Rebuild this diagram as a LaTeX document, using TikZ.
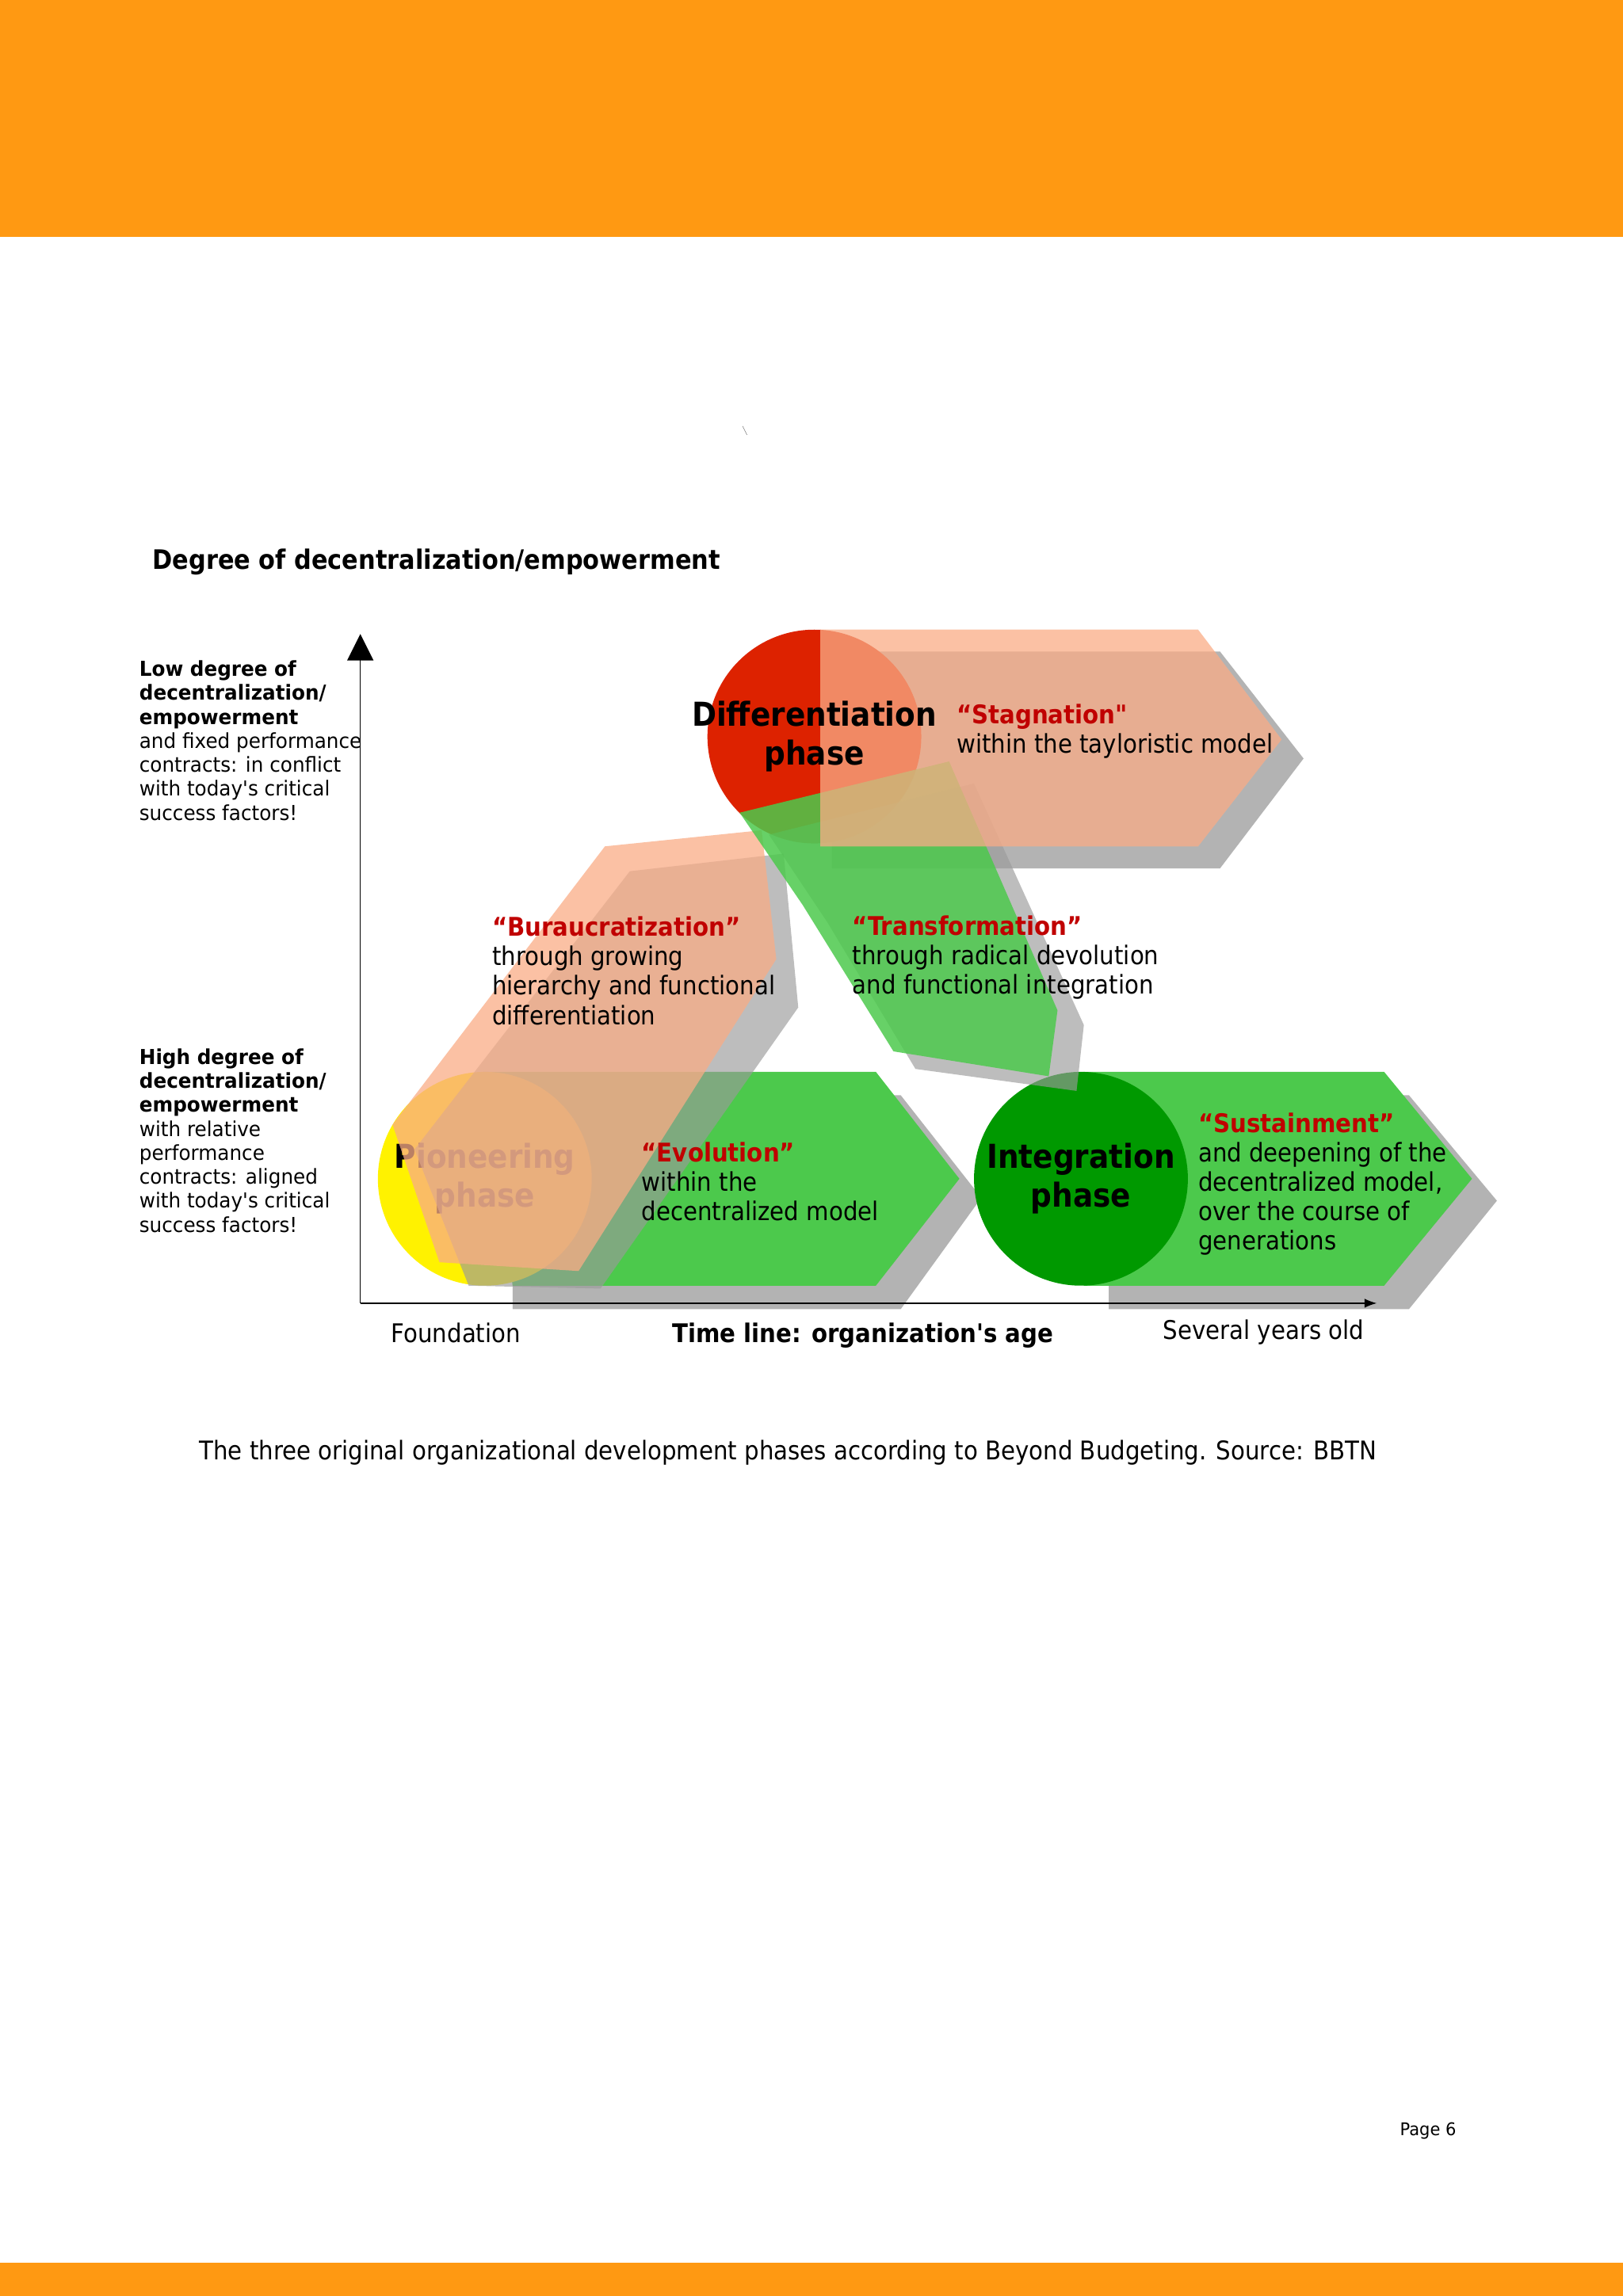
\documentclass[tikz,border=0pt]{standalone}
\usepackage{fontspec}
\usetikzlibrary{arrows.meta}
\setmainfont{DejaVu Sans}
\newfontfamily\cond{DejaVu Sans}[FakeStretch=0.9]
\newfontfamily\side{DejaVu Sans}[FakeStretch=0.95]
\definecolor{orng}{HTML}{FF9912}
\definecolor{grn}{HTML}{4CC94C}
\definecolor{salm}{HTML}{F9AC86}
\definecolor{shd}{HTML}{9A9A9A}
\definecolor{lbl}{HTML}{C00000}
\tikzset{
  main/.style={font=\cond\fontsize{25}{28.5}\selectfont, align=left, inner sep=0pt},
  sidet/.style={font=\side\fontsize{20}{23.3}\selectfont, align=left, inner sep=0pt},
  circ/.style={circle, minimum size=7.3cm, inner sep=0pt, font=\cond\bfseries\fontsize{32}{38}\selectfont, align=center},
  shadow/.style={fill=shd, fill opacity=0.75},
}
\begin{document}
\begin{tikzpicture}[x=0.05cm,y=-0.05cm]
\useasboundingbox (0,0) rectangle (1108,1568);
\fill[orng] (0,0) rectangle (1108,162);
\fill[orng] (0,1545) rectangle (1108,1568);
\draw[gray] (507,291) -- (510,297);
\node[anchor=west, font=\cond\bfseries\fontsize{26}{28}\selectfont, inner sep=0pt] (title) at (104,384) {Degree of decentralization/empowerment};
% axes
\coordinate (o) at (246,890);
\coordinate (ytop) at (246,443);
\coordinate (xend) at (940,890);
% shadows & green bottom shapes
\fill[shadow] (350,748) -- (615,748) -- (670,818) -- (615,894) -- (350,894) -- cycle;
\fill[shadow] (757,748) -- (962,748) -- (1022,820) -- (962,894) -- (757,894) -- cycle;
\fill[grn] (330,732) -- (598,732) -- (655,805) -- (598,878) -- (350,878) -- cycle;
\fill[grn] (740,732) -- (945,732) -- (1005,805) -- (945,878) -- (740,878) -- cycle;
\fill[shadow] (568,445) -- (833,445) -- (890,518) -- (833,593) -- (568,593) -- cycle;
\draw[line width=0.8pt] (o) -- (ytop);
\fill (ytop) ++(0,-10) -- ++(-9,18) -- ++(18,0) -- cycle;
\draw[line width=1.2pt,-{Latex[length=12pt,width=9pt]}] (o) -- (xend);
% circles
\node[circ, fill={rgb,255:red,221;green,34;blue,0}] (diffc) at (556,503) {};
\node[circ, fill=yellow] (pion) at (331,805) {Pioneering\\phase};
\node[circ, fill={rgb,255:red,0;green,153;blue,0}] (integ) at (738,805) {Integration\\phase};
% transparent diagonal shapes
\fill[shadow, fill opacity=0.65] (283,785) -- (430,595) -- (535,583) -- (545,688) -- (410,880) -- (320,878) -- cycle;
\fill[salm, fill opacity=0.75] (268,768) -- (413,578) -- (520,567) -- (530,655) -- (395,868) -- (300,862) -- cycle;
\fill[shadow, fill opacity=0.65] (525,570) -- (665,535) -- (740,700) -- (735,745) -- (625,730) -- (565,630) -- cycle;
\fill[grn, fill opacity=0.85] (505,555) -- (648,520) -- (722,690) -- (716,735) -- (610,718) -- (548,618) -- cycle;
\fill[salm, fill opacity=0.75] (560,430) -- (818,430) -- (875,505) -- (818,578) -- (560,578) -- cycle;
\node[circ] (diff) at (diffc) {Differentiation\\phase};
% labels
\node[main, anchor=north west] (stag) at (653,481) {\textcolor{lbl}{\bfseries “Stagnation"}\\within the tayloristic model};
\node[main, anchor=north west] (bur) at (336,626) {\textcolor{lbl}{\bfseries “Buraucratization”}\\through growing\\hierarchy and functional\\differentiation};
\node[main, anchor=north west] (trans) at (582,625) {\textcolor{lbl}{\bfseries “Transformation”}\\through radical devolution\\and functional integration};
\node[main, anchor=north west] (evo) at (438,780) {\textcolor{lbl}{\bfseries “Evolution”}\\within the\\decentralized model};
\node[main, anchor=north west] (sus) at (818,760) {\textcolor{lbl}{\bfseries “Sustainment”}\\and deepening of the\\decentralized model,\\over the course of\\generations};
\node[sidet, anchor=north west] (low) at (95,451) {\bfseries Low degree of\\\bfseries decentralization/\\\bfseries empowerment\\and fixed performance\\contracts: in conflict\\with today's critical\\success factors!};
\node[sidet, anchor=north west] (high) at (95,716) {\bfseries High degree of\\\bfseries decentralization/\\\bfseries empowerment\\with relative\\performance\\contracts: aligned\\with today's critical\\success factors!};
\node[main, anchor=west] (found) at (267,910) {Foundation};
\node[main, font=\cond\bfseries\fontsize{25}{28}\selectfont] (tl) at (589,912) {Time line: organization's age};
\node[main, anchor=west] (sev) at (794,910) {Several years old};
\node[main] (cap) at (538,992) {The three original organizational development phases according to Beyond Budgeting. Source: BBTN};
\node[sidet, font=\side\fontsize{17}{20}\selectfont] (page) at (975,1455) {Page 6};
\end{tikzpicture}
\end{document}
